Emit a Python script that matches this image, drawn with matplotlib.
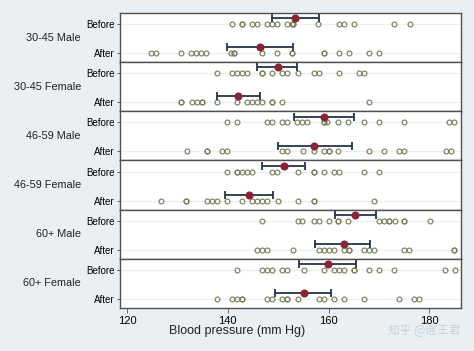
import matplotlib
matplotlib.use("Agg")
import matplotlib.pyplot as plt
import numpy as np

plt.rcParams['font.family'] = ['Liberation Sans', 'Noto Sans CJK SC', 'DejaVu Sans']

groups = ["30-45 Male", "30-45 Female", "46-59 Male", "46-59 Female", "60+ Male", "60+ Female"]
row_labels = ["After", "Before"]
x_ticks = [120, 140, 160, 180]

before_3045m = [140.9, 142.8, 142.8, 144.8, 145.8, 147.8, 148.8, 149.8, 151.8, 152.8, 153.0, 153.0,
                157.9, 162.1, 163.0, 165.0, 173.0, 176.1]
after_3045m = [124.8, 125.8, 130.7, 132.6, 133.6, 134.6, 135.6, 140.7, 141.3, 141.3, 146.8, 149.8,
               152.8, 152.8, 159.1, 159.1, 162.1, 164.0, 168.0, 170.0]
before_3045f = [137.8, 140.9, 141.9, 142.8, 143.8, 146.8, 146.8, 148.8, 150.8, 151.8, 153.9, 157.1,
                158.1, 162.1, 166.0, 167.0]
after_3045f = [130.7, 130.7, 132.8, 133.8, 134.8, 134.8, 137.8, 141.9, 143.8, 144.8, 145.8, 146.8,
               148.8, 148.8, 150.8, 168.0]
before_4659m = [139.8, 141.9, 147.8, 148.8, 150.8, 151.8, 153.8, 154.8, 155.8, 159.1, 159.1, 159.7,
                161.9, 163.8, 167.0, 170.0, 175.0, 183.9, 185.0]
after_4659m = [131.9, 135.8, 135.8, 138.8, 139.8, 150.8, 151.8, 154.9, 157.1, 159.1, 160.1, 160.1,
               161.9, 168.0, 171.0, 174.0, 175.0, 183.4, 184.4]
before_4659f = [139.8, 141.9, 141.9, 142.8, 143.8, 144.8, 148.8, 149.8, 153.9, 157.1, 157.1, 159.1,
                161.1, 162.1, 167.0, 170.1]
after_4659f = [126.8, 131.7, 131.7, 135.8, 136.8, 137.8, 139.8, 142.8, 144.8, 145.8, 146.8, 147.8,
               149.9, 153.9, 157.1, 157.1, 169.0]
before_60m = [146.8, 153.9, 154.8, 157.1, 158.1, 160.1, 161.9, 161.9, 163.8, 170.1, 171.1, 172.1,
              172.1, 173.1, 175.0, 175.0, 180.1]
after_60m = [145.8, 146.8, 147.8, 152.9, 158.1, 159.1, 160.1, 161.1, 163.0, 164.0, 164.0, 167.0,
             168.0, 169.0, 175.0, 176.0, 185.0, 185.0]
before_60f = [141.9, 146.8, 147.8, 148.8, 150.8, 151.8, 155.1, 159.1, 161.1, 162.1, 163.0, 165.0,
              165.0, 168.0, 170.0, 173.0, 183.2, 185.2]
after_60f = [137.8, 140.9, 141.9, 142.8, 142.8, 147.8, 148.8, 150.8, 151.8, 151.8, 153.9, 158.1,
             159.1, 161.1, 163.0, 167.0, 174.0, 177.0, 178.0]

mean_before = [153.4, 149.9, 159.1, 151.1, 165.3, 159.9]
ci_lo_before = [148.7, 145.8, 153.1, 146.8, 161.2, 154.2]
ci_hi_before = [158.1, 153.8, 165.0, 155.4, 169.5, 165.4]
mean_after = [146.4, 142.1, 157.2, 144.2, 163.0, 155.1]
ci_lo_after = [139.8, 137.8, 149.9, 139.5, 157.4, 149.4]
ci_hi_after = [153.0, 146.4, 164.6, 148.9, 168.3, 160.5]

befores = [before_3045m, before_3045f, before_4659m, before_4659f, before_60m, before_60f]
afters = [after_3045m, after_3045f, after_4659m, after_4659f, after_60m, after_60f]

W, H = 474, 351
fig = plt.figure(figsize=(W / 100, H / 100), dpi=100)
bg = '#e9eff3'
fig.patch.set_facecolor(bg)

left, right = 120 / W, 461 / W
top_px, bot_px = 13, 308
ph = (bot_px - top_px) / 6

pt_col = '#7a7a55'
mean_col = '#8a2434'
ci_col = '#25344a'
frame_col = '#505050'

for i, g in enumerate(groups):
    y0 = 1 - (top_px + (i + 1) * ph) / H
    ax = fig.add_axes([left, y0, right - left, ph / H])
    ax.set_facecolor('white')
    ax.set_xlim(118.6, 186.3)
    ax.set_ylim(-0.31, 1.38)
    for yy in (0, 1):
        ax.axhline(yy, color='#eceff1', lw=0.8, zorder=0)
    for yy, vals in ((1, befores[i]), (0, afters[i])):
        ax.plot(vals, [yy] * len(vals), 'o', ms=3.5, mfc='none', mec=pt_col, mew=0.8, zorder=2)
    for yy, m, lo, hi in ((1, mean_before[i], ci_lo_before[i], ci_hi_before[i]),
                          (0, mean_after[i], ci_lo_after[i], ci_hi_after[i])):
        ax.errorbar([m], [yy + 0.2], xerr=[[m - lo], [hi - m]], fmt='none', ecolor=ci_col,
                    elinewidth=1.3, capsize=3, capthick=1.3, zorder=3)
        ax.plot([m], [yy + 0.2], 'o', ms=4.8, color=mean_col, zorder=4)
    ax.set_yticks([0, 1])
    ax.set_yticklabels(row_labels, fontsize=7)
    ax.tick_params(axis='y', length=2.5, width=0.6, color=frame_col, pad=1.5)
    for s in ax.spines.values():
        s.set_color(frame_col)
        s.set_linewidth(1.0)
    ax.set_xticks(x_ticks)
    if i < 5:
        ax.tick_params(axis='x', length=0, labelbottom=False)
    else:
        ax.set_xticklabels([str(t) for t in x_ticks], fontsize=8)
        ax.tick_params(axis='x', length=3.5, width=0.6, color=frame_col, pad=2)
    yc = 1 - (top_px + (i + 0.5) * ph) / H
    fig.text(81 / W, yc, g, ha='right', va='center', fontsize=7.8, color='#222222')

fig.text(0.5, 1 - 331 / H, "Blood pressure (mm Hg)", ha='center', va='center', fontsize=9, color='#222222')
fig.text(460 / W, 1 - 331 / H, "知乎 @连王君", ha='right', va='center', fontsize=8.5,
         color='#c9d2da', family=['Noto Sans CJK SC', 'DejaVu Sans'])

fig.savefig('out.png', dpi=100, facecolor=bg)
